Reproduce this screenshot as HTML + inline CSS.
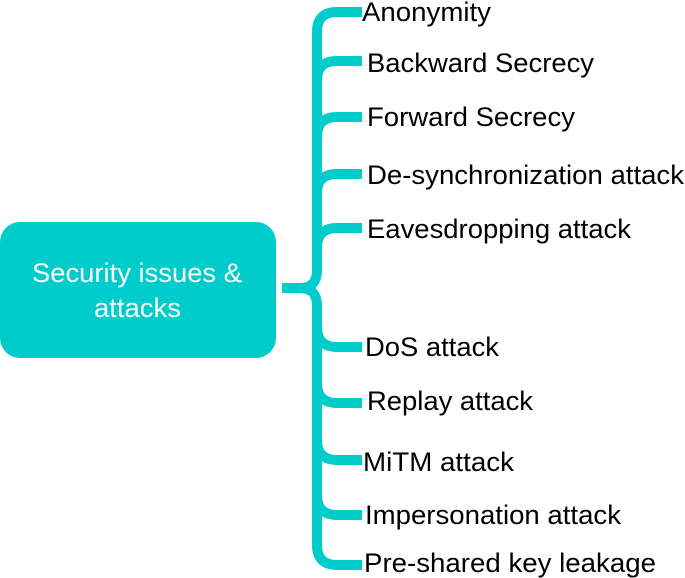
<!DOCTYPE html>
<html><head><meta charset="utf-8"><style>
html,body{margin:0;padding:0;background:#fff;width:685px;height:578px;overflow:hidden}
svg{display:block}
text{font-family:"Liberation Sans",Arial,sans-serif}
</style></head><body>
<svg width="685" height="578" viewBox="0 0 685 578" xmlns="http://www.w3.org/2000/svg">
<rect x="0" y="222" width="276" height="136" rx="20" fill="#00CCCC"/>
<text x="32" y="282" font-size="27" fill="#fff" textLength="210" lengthAdjust="spacingAndGlyphs">Security issues &amp;</text>
<text x="94" y="317" font-size="27" fill="#fff" textLength="87" lengthAdjust="spacingAndGlyphs">attacks</text>
<g fill="none" stroke="#00CCCC" stroke-width="10">
<path d="M282,288 L300,288 Q317,288 317,270"/>
<path d="M300,288 Q317,288 317,306"/>
<path d="M317,272 L317,32 Q317,12 337,12 L362,12"/>
<path d="M317,80 Q317,61 337,61 L362,61"/>
<path d="M317,137 Q317,117 337,117 L362,117"/>
<path d="M317,193 Q317,174 337,174 L362,174"/>
<path d="M317,248 Q317,228 337,228 L362,228"/>
<path d="M317,304 L317,545 Q317,565 337,565 L362,565"/>
<path d="M317,327 Q317,347 337,347 L362,347"/>
<path d="M317,383 Q317,403 337,403 L362,403"/>
<path d="M317,440 Q317,460 337,460 L362,460"/>
<path d="M317,495 Q317,515 337,515 L362,515"/>
</g>
<g font-size="27" fill="#000" dominant-baseline="central" lengthAdjust="spacingAndGlyphs">
<text x="362" y="12" textLength="129" lengthAdjust="spacingAndGlyphs">Anonymity</text>
<text x="367" y="63" textLength="227" lengthAdjust="spacingAndGlyphs">Backward Secrecy</text>
<text x="367" y="117" textLength="208" lengthAdjust="spacingAndGlyphs">Forward Secrecy</text>
<text x="367" y="175" textLength="317" lengthAdjust="spacingAndGlyphs">De-synchronization attack</text>
<text x="367" y="229" textLength="264" lengthAdjust="spacingAndGlyphs">Eavesdropping attack</text>
<text x="365" y="347" textLength="134" lengthAdjust="spacingAndGlyphs">DoS attack</text>
<text x="367" y="401" textLength="166" lengthAdjust="spacingAndGlyphs">Replay attack</text>
<text x="363" y="462" textLength="151" lengthAdjust="spacingAndGlyphs">MiTM attack</text>
<text x="365" y="515" textLength="256" lengthAdjust="spacingAndGlyphs">Impersonation attack</text>
<text x="364" y="563" textLength="292" lengthAdjust="spacingAndGlyphs">Pre-shared key leakage</text>
</g>
</svg>
</body></html>
